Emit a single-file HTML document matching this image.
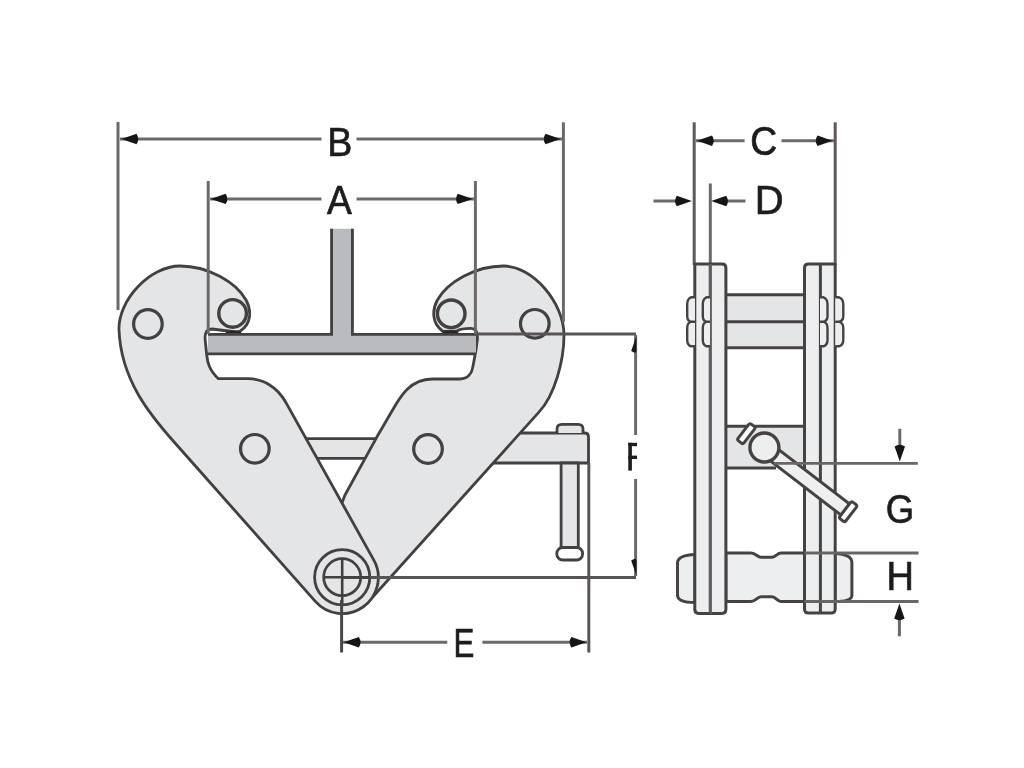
<!DOCTYPE html>
<html><head><meta charset="utf-8">
<style>
html,body{margin:0;padding:0;background:#fff;width:1024px;height:768px;overflow:hidden}
svg{display:block}
text{font-family:"Liberation Sans",sans-serif;fill:#1e1e1e;stroke:#1e1e1e;stroke-width:0.7}
</style></head><body>
<svg width="1024" height="768" viewBox="0 0 1024 768">
<defs><filter id="soft" x="0" y="0" width="1024" height="768" filterUnits="userSpaceOnUse"><feGaussianBlur stdDeviation="0.45"/></filter></defs>
<rect width="1024" height="768" fill="#fff"/>
<g filter="url(#soft)">

<!-- ===== FRONT VIEW ===== -->
<g stroke="#433f3f" stroke-width="2.8" stroke-linejoin="round" fill="#e4e5e7">
  <!-- crossbar left (between jaws) -->
  <rect x="290" y="438.7" width="100" height="19.7" stroke="none"/>
  <line x1="290" y1="438.7" x2="390" y2="438.7"/>
  <line x1="290" y1="458.4" x2="390" y2="458.4"/>
  <!-- crossbar right -->
  <path d="M480,433 L584.5,433 Q588.5,433 588.5,437 L588.5,463 L480,463 Z"/>
  <!-- nub -->
  <path d="M557,433 L557,429 Q557,424.3 562,424.3 L578,424.3 Q583,424.3 583,429 L583,433"/>
  <!-- screw -->
  <rect x="561.1" y="463" width="17.2" height="86" fill="#e4e5e7"/>
  <rect x="556.8" y="547.5" width="25.8" height="12.5" rx="6" fill="#fff"/>
</g>

<g stroke="#433f3f" stroke-width="2.8" stroke-linejoin="round" fill="#e4e5e7">
  <!-- right jaw (behind) -->
  <path d="M503.4,266 C533,266 564,303 564,335 C564,360 555,395 538.7,412.4 L368.9,601.3 A36,36 0 0 1 320,560 L345,495 L376.7,437.3 L392,411 C400,397 410,379 432,379 L460,379 C468,379 472,373 473,366 L476,350 L477.5,338 C477.5,331 475,328.4 471,328.4 C464,328.4 460,329 457,331 L443,331.5 C432.4,324 431.4,311 437.4,300 C447.4,282 475.4,266 503.4,266 Z"/>
  <!-- left jaw (front) -->
  <path d="M180,266 C208,266 236,282 246,300 C252,311 251,324 240.4,331 C238,332 235,332 232,331.5 L212,329 C207,329 205,333 205,338 L206.7,355 C207.5,362 209,370 218.4,378.7 L247.7,378.7 C262,378.7 277,386 286.4,403.3 L373.7,559.9 A36,36 0 0 1 315.1,601.1 L175,443 C150,414.9 121,380 119,330 C118,300 150,266 180,266 Z"/>
  <!-- holes -->
  <circle cx="147.9" cy="324" r="14.3" stroke-width="3.2"/>
  <circle cx="254.85" cy="448.8" r="14.3" stroke-width="3.2"/>
  <circle cx="534.8" cy="323.8" r="14.3" stroke-width="3.2"/>
  <circle cx="428" cy="449" r="14.3" stroke-width="3.2"/>
  <!-- pins -->
  <circle cx="232.6" cy="313.4" r="13.8" stroke-width="3.4"/>
  <circle cx="451.2" cy="313.8" r="13.8" stroke-width="3.4"/>
  <ellipse cx="233.5" cy="333" rx="8" ry="2.4" fill="#2a2626" stroke="none"/>
  <ellipse cx="450.5" cy="333" rx="8" ry="2.4" fill="#2a2626" stroke="none"/>
  <!-- pivot -->
  <circle cx="342.2" cy="577.2" r="27.6"/>
  <circle cx="342.2" cy="577.2" r="18.5"/>
</g>

<!-- beam -->
<g stroke="#433f3f" stroke-width="2.8" fill="#babbbe">
  <path d="M208,334.3 L330.3,334.3 L330.3,228.7 L353.7,228.7 L353.7,334.3 L476,334.3 L476,353.8 L208,353.8 Z" stroke="none"/>
  <path d="M208,334.3 L331.6,334.3 L331.6,228.7 M352.4,228.7 L352.4,334.3 L476,334.3 M208,353.8 L476,353.8" fill="none"/>
</g>

<!-- dimension lines -->
<g stroke="#6e6969" stroke-width="3" fill="none">
  <!-- B -->
  <line x1="118" y1="122" x2="118" y2="310"/>
  <line x1="563.4" y1="122.3" x2="563.4" y2="322"/>
  <line x1="120" y1="139" x2="321.5" y2="139"/>
  <line x1="356.5" y1="139" x2="562" y2="139"/>
  <!-- A -->
  <line x1="208.2" y1="181" x2="208.2" y2="334"/>
  <line x1="475.4" y1="181" x2="475.4" y2="334"/>
  <line x1="210" y1="198.9" x2="321.5" y2="198.9"/>
  <line x1="356.5" y1="198.9" x2="474" y2="198.9"/>
  <!-- C -->
  <line x1="694.2" y1="122.3" x2="694.2" y2="265" stroke="#5e5959"/>
  <line x1="835.2" y1="122.3" x2="835.2" y2="265" stroke="#5e5959"/>
  <line x1="696" y1="140.8" x2="744.6" y2="140.8"/>
  <line x1="781.5" y1="140.8" x2="834" y2="140.8"/>
  <!-- D -->
  <line x1="710.3" y1="183.5" x2="710.3" y2="265"/>
  <line x1="653.5" y1="201" x2="680" y2="201"/>
  <line x1="722" y1="201" x2="745.5" y2="201"/>
  <!-- F -->
  <line x1="476" y1="334" x2="636" y2="334" stroke="#5a5555"/>
  <line x1="342.2" y1="577.4" x2="636" y2="577.4" stroke="#5a5555"/>
  <line x1="635.6" y1="335" x2="635.6" y2="435"/>
  <line x1="635.6" y1="479" x2="635.6" y2="576"/>
  <!-- E -->
  <line x1="341.6" y1="600" x2="341.6" y2="652.5" stroke="#4a4646"/>
  <line x1="588.8" y1="463" x2="588.8" y2="652.5" stroke="#5a5555"/>
  <line x1="343" y1="642.2" x2="447.3" y2="642.2"/>
  <line x1="482.4" y1="642.2" x2="587" y2="642.2"/>
  <!-- G / H -->
  <line x1="899.8" y1="428.8" x2="899.8" y2="450"/>
  <line x1="899.4" y1="615" x2="899.4" y2="636.3"/>
</g>
<!-- pivot cross -->
<g stroke="#433f3f" stroke-width="2.6">
  <line x1="342.2" y1="558.7" x2="342.2" y2="604"/>
  <line x1="323.7" y1="577.2" x2="370" y2="577.2"/>
</g>

<!-- arrowheads -->
<g fill="#151515">
  <path d="M121.5,139.0 L136.5,133.8 Q140.0,139.0 136.5,144.2 Z"/>
  <path d="M560.5,139.0 L545.5,144.2 Q542.0,139.0 545.5,133.8 Z"/>
  <path d="M210.6,198.9 L225.6,193.7 Q229.1,198.9 225.6,204.1 Z"/>
  <path d="M472.8,198.9 L457.8,204.1 Q454.3,198.9 457.8,193.7 Z"/>
  <path d="M697.0,140.8 L712.0,135.6 Q715.5,140.8 712.0,146.0 Z"/>
  <path d="M832.5,140.8 L817.5,146.0 Q814.0,140.8 817.5,135.6 Z"/>
  <path d="M691.8,201.0 L676.8,206.2 Q673.3,201.0 676.8,195.8 Z"/>
  <path d="M711.2,201.0 L726.2,195.8 Q729.7,201.0 726.2,206.2 Z"/>
  <path d="M636.4,336.0 L631.2,351.0 Q636.4,354.5 636.4,351.0 Z"/>
  <path d="M636.4,575.5 L631.2,560.5 Q636.4,557.0 636.4,560.5 Z"/>
  <path d="M343.8,642.2 L358.8,637.0 Q362.3,642.2 358.8,647.4 Z"/>
  <path d="M586.4,642.2 L571.4,647.4 Q567.9,642.2 571.4,637.0 Z"/>
  <path d="M899.8,461.4 L894.6,446.4 Q899.8,442.9 905.0,446.4 Z"/>
  <path d="M899.4,603.6 L904.6,618.6 Q899.4,622.1 894.2,618.6 Z"/>
</g>

<!-- ===== SIDE VIEW ===== -->
<g stroke="#474343" stroke-width="3" stroke-linejoin="round" fill="#eceef0">
  <!-- top spacers -->
  <rect x="725.7" y="294.8" width="78.8" height="53" stroke="none" fill="#e4e5e7"/>
  <line x1="725.7" y1="294.8" x2="804.5" y2="294.8"/>
  <line x1="725.7" y1="321.7" x2="804.5" y2="321.7"/>
  <line x1="725.7" y1="347.7" x2="804.5" y2="347.7"/>
  <!-- middle crossbar -->
  <rect x="725.7" y="426.3" width="78.8" height="41.8" stroke="none" fill="#e4e5e7"/>
  <line x1="725.7" y1="426.3" x2="804.5" y2="426.3"/>
  <line x1="725.7" y1="468.1" x2="776" y2="468.1"/>
  <!-- bottom pin -->
  <path d="M695,554.6 C686,555 677.5,557 677.5,563 L677.5,595 C677.5,601 686,602.5 695,602.5 Z"/>
  <path d="M835,553.5 C844,554 851.9,556 851.9,562.4 L851.9,595.2 C851.9,600 844,601.5 835,601.5 Z"/>
  <path d="M725.9,553 L751,553 C756,553 757,557.2 761,557.2 L772,557.2 C776,557.2 777,553 781,553 L804.5,553 L804.5,601.5 L781,601.5 C777,601.5 776,596.8 772,596.8 L761,596.8 C757,596.8 756,601.5 751,601.5 L725.9,601.5 Z"/>
  <!-- plates -->
  <path d="M694.8,264.1 L722,264.1 Q725.9,264.1 725.9,268 L725.9,609.5 Q725.9,613.4 722,613.4 L698.7,613.4 Q694.8,613.4 694.8,609.5 Z"/>
  <line x1="710.3" y1="264.1" x2="710.3" y2="613.4" stroke="#625d5d" stroke-width="3.2"/>
  <path d="M835.2,264.1 L808.5,264.1 Q804.5,264.1 804.5,268 L804.5,609.1 Q804.5,613.1 808.5,613.1 L831.2,613.1 Q835.2,613.1 835.2,609.1 Z"/>
  <line x1="820.4" y1="264.1" x2="820.4" y2="613.1"/>
  <!-- nuts -->
  <g stroke-width="2.4">
  <path d="M695,297.3 L691,297.3 Q687.2,299 687.2,304 L687.2,316 Q687.2,321 691,321.7 L695,321.7 M695,321.7 L691,321.7 Q687.2,323 687.2,328 L687.2,340 Q687.2,345 691,346.3 L695,346.3"/>
  <path d="M710,297.3 L706.5,297.3 Q702.8,299 702.8,304 L702.8,316 Q702.8,321 706.5,321.7 L710,321.7 M710,321.7 L706.5,321.7 Q702.8,323 702.8,328 L702.8,340 Q702.8,345 706.5,346.3 L710,346.3"/>
  <path d="M820,297.3 L823.5,297.3 Q827.5,299 827.5,304 L827.5,316 Q827.5,321 823.5,321.7 L820,321.7 M820,321.7 L823.5,321.7 Q827.5,323 827.5,328 L827.5,340 Q827.5,345 823.5,346.3 L820,346.3"/>
  <path d="M835.2,297.3 L839,297.3 Q843.3,299 843.3,304 L843.3,316 Q843.3,321 839,321.7 L835.2,321.7 M835.2,321.7 L839,321.7 Q843.3,323 843.3,328 L843.3,340 Q843.3,345 839,346.3 L835.2,346.3"/>
  </g>
  <!-- screw head & handle -->
  <g transform="translate(764.4,447.5) rotate(37.5)">
    <rect x="0" y="-7" width="102" height="14" fill="#eeeff1"/>
    <rect x="101.8" y="-10.5" width="7.5" height="21" rx="2" fill="#fff"/>
    <rect x="-26.5" y="-10.5" width="7.5" height="21" rx="2" fill="#fff"/>
  </g>
  <circle cx="764.4" cy="447.5" r="14.5" stroke-width="3.4"/>
</g>

<g stroke="#6a6565" stroke-width="2.8">
  <line x1="774" y1="463.3" x2="917.8" y2="463.3"/>
  <line x1="804.5" y1="553" x2="918.6" y2="553"/>
  <line x1="804.5" y1="601.5" x2="918.6" y2="601.5"/>
</g>
<!-- letters -->
<g font-size="40">
  <text transform="translate(339.7,155.8) scale(0.94,1)" text-anchor="middle">B</text>
  <text transform="translate(339.4,213.7) scale(0.93,1)" text-anchor="middle">A</text>
  <text transform="translate(763.6,155.1) scale(0.93,1)" text-anchor="middle">C</text>
  <text transform="translate(769.2,213.6) scale(1,1)" text-anchor="middle">D</text>
  <text transform="translate(463.8,656.7) scale(0.78,1)" text-anchor="middle">E</text>
  <text transform="translate(899.8,522.5) scale(0.91,1)" text-anchor="middle">G</text>
  <text transform="translate(900.2,590.2) scale(0.95,1)" text-anchor="middle">H</text>
</g>
<g fill="#1e1e1e">
  <rect x="628.3" y="442.8" width="3.6" height="27.8"/>
  <rect x="628.3" y="442.8" width="8.7" height="3.4"/>
  <rect x="628.3" y="455.6" width="8.7" height="3.4"/>
</g>
</g>
</svg>
</body></html>
